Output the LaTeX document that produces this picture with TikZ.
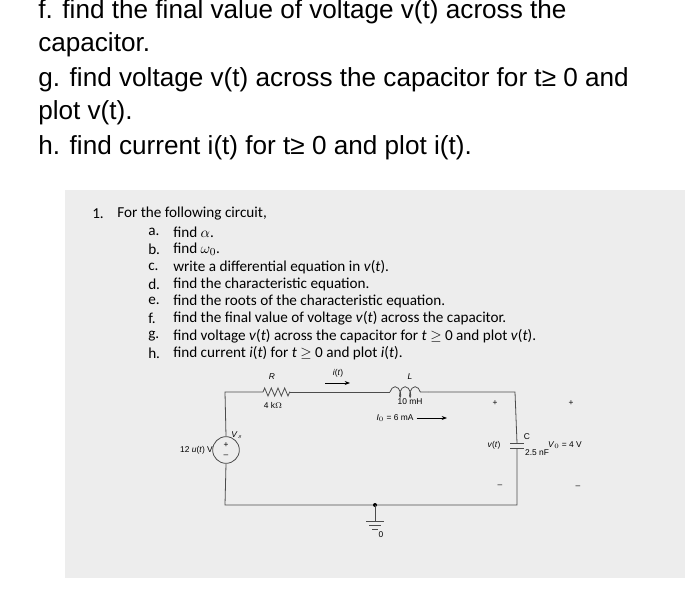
\documentclass[tikz,border=0pt]{standalone}
\usepackage{fontspec}
\setmainfont{Liberation Sans}
\newfontfamily\carl{Carlito}
\usetikzlibrary{decorations.pathmorphing,arrows.meta}
\begin{document}
\begin{tikzpicture}[x=0.75pt,y=-0.75pt,
  big/.style={anchor=west,font=\fontsize{19.6}{21}\selectfont,inner sep=0},
  itm/.style={anchor=west,font=\carl\fontsize{11.4}{12}\selectfont,inner sep=0},
  lbl/.style={font=\fontsize{6.3}{7}\selectfont,inner sep=0},
  wire/.style={draw=black!70,line width=0.6pt}]
\useasboundingbox (0,0) rectangle (700,606);
\fill[white] (0,0) rectangle (700,606);
\fill[black!7] (65,190) rectangle (685,578);
\node[big] (t1) at (38,12) {f. find the final value of voltage v(t) across the};
\node[big] (t2) at (38,45) {capacitor.};
\node[big] (t3) at (38,80) {g. find voltage v(t) across the capacitor for t≥ 0 and};
\node[big] (t4) at (38,113) {plot v(t).};
\node[big] (t5) at (38,148) {h. find current i(t) for t≥ 0 and plot i(t).};
\node[itm] (n1) at (92,214) {1.};
\node[itm] (h1) at (117,214) {For the following circuit,};
\foreach \l/\t/\y in {a/{find $\alpha$.}/232, b/{find $\omega_0$.}/249,
 c/{write a differential equation in \textit{v}(\textit{t}).}/267,
 d/{find the characteristic equation.}/284,
 e/{find the roots of the characteristic equation.}/301,
 f/{find the final value of voltage \textit{v}(\textit{t}) across the capacitor.}/318,
 g/{find voltage \textit{v}(\textit{t}) across the capacitor for \textit{t} $\geq$ 0 and plot \textit{v}(\textit{t}).}/336,
 h/{find current \textit{i}(\textit{t}) for \textit{t} $\geq$ 0 and plot \textit{i}(\textit{t}).}/353}
 {\node[itm] (l\l) at (148,\y) {\l.}; \node[itm] (x\l) at (173,\y) {\t};}
% circuit
\coordinate (tl) at (225,392); \coordinate (tr) at (515,392);
\coordinate (bl) at (225,505); \coordinate (br) at (517,505);
\node[circle,draw=black!70,minimum size=20pt,inner sep=0,line width=0.6pt] (src) at (226,450) {};
\node[lbl] at (226,445) {+}; \node[lbl] at (226,456) {--};
\coordinate (r1) at (263,392); \coordinate (r2) at (290,392);
\coordinate (l1) at (390,392); \coordinate (l2) at (428,392);
\coordinate (c1) at (517,443); \coordinate (c2) at (517,448);
\coordinate (g) at (375,505);
\draw[wire] (src.north) -- (tl) -- (r1);
\draw[wire,decorate,decoration={zigzag,segment length=5pt,amplitude=3pt}] (r1) -- (r2);
\draw[wire] (r2) -- (l1);
\draw[wire,decorate,decoration={coil,aspect=0.5,segment length=7.5pt,amplitude=4pt}] (l1) -- (l2);
\draw[wire] (l2) -- (tr) -- (c1);
\draw[wire] (510,443) -- (524,443); \draw[wire] (510,448) -- (524,448);
\draw[wire] (c2) -- (br) -- (bl) -- (src.south);
\fill (g) circle (2);
\draw[wire] (g) -- (375,521);
\draw[wire] (366,521) -- (384,521); \draw[wire] (369,525) -- (381,525); \draw[wire] (372,529) -- (378,529);
\node[lbl] at (381,535) {0};
\node[lbl] at (272,377) {\textit{R}};
\node[lbl] at (273,405) {4 k$\Omega$};
\node[lbl] at (338,373) {\textit{i}(\textit{t})};
\draw[-{Stealth[length=4pt]},line width=0.6pt] (325,383) -- (350,383);
\node[lbl] at (410,377) {\textit{L}};
\node[lbl] at (410,402) {10 mH};
\node[lbl] (i0) at (395,418) {\textit{I}$_0$ = 6 mA};
\draw[-{Stealth[length=4pt]},line width=0.6pt] (i0.east)+(3,0) -- (447,418);
\node[lbl,anchor=east] at (213,450) {12 \textit{u}(\textit{t}) V};
\node[lbl] at (237,435) {\textit{V}$_s$};
\node[lbl] at (495,403) {+}; \node[lbl] at (500,486) {--};
\node[lbl] at (494,445) {\textit{v}(\textit{t})};
\node[lbl] at (527,437) {C};
\node[lbl] at (537,453) {2.5 nF};
\node[lbl] at (565,445) {\textit{V}$_0$ = 4 V};
\node[lbl] at (571,403) {+}; \node[lbl] at (578,487) {--};
\end{tikzpicture}
\end{document}
